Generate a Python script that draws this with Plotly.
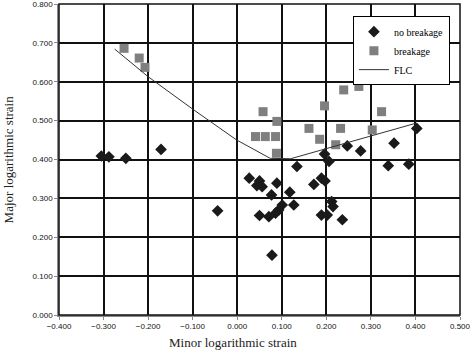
import plotly.graph_objects as go

# no breakage points
nb_x = [-0.305, -0.288, -0.250, -0.171, -0.044,
        0.027, 0.050, 0.044, 0.056, 0.089, 0.077, 0.118,
        0.172, 0.189, 0.197, 0.212, 0.215, 0.127, 0.101, 0.093,
        0.086, 0.071, 0.050, 0.189, 0.202, 0.236, 0.078,
        0.134, 0.196, 0.206, 0.247, 0.277, 0.352, 0.403, 0.339, 0.385]
nb_y = [0.409, 0.407, 0.403, 0.426, 0.268,
        0.352, 0.345, 0.333, 0.330, 0.339, 0.309, 0.316,
        0.336, 0.352, 0.345, 0.292, 0.279, 0.283, 0.283, 0.270,
        0.262, 0.253, 0.256, 0.257, 0.257, 0.245, 0.154,
        0.382, 0.414, 0.395, 0.435, 0.422, 0.442, 0.480, 0.384, 0.388]

# breakage points
br_x = [-0.254, -0.220, -0.207, 0.058, 0.089, 0.041, 0.063, 0.086, 0.088,
        0.196, 0.161, 0.185, 0.232, 0.221, 0.239, 0.273, 0.324, 0.303]
br_y = [0.686, 0.661, 0.637, 0.523, 0.498, 0.459, 0.459, 0.459, 0.416,
        0.538, 0.480, 0.452, 0.480, 0.438, 0.579, 0.588, 0.523, 0.476]

# forming limit curve
flc_x = [-0.275, -0.200, -0.098, -0.001, 0.074, 0.120, 0.400]
flc_y = [0.684, 0.613, 0.528, 0.450, 0.403, 0.402, 0.493]

x_ticks = [-0.4, -0.3, -0.2, -0.1, 0.0, 0.1, 0.2, 0.3, 0.4, 0.5]
y_ticks = [0.0, 0.1, 0.2, 0.3, 0.4, 0.5, 0.6, 0.7, 0.8]

fig = go.Figure()
fig.add_trace(go.Scatter(x=nb_x, y=nb_y, mode="markers", name="no breakage",
                         marker=dict(symbol="diamond", size=9, color="#1a1a1a")))
fig.add_trace(go.Scatter(x=br_x, y=br_y, mode="markers", name="breakage",
                         marker=dict(symbol="square", size=9, color="#7f7f7f")))
fig.add_trace(go.Scatter(x=flc_x, y=flc_y, mode="lines", name="FLC",
                         line=dict(color="#333333", width=1)))

tick_font = dict(family="Liberation Sans", size=8, color="#111111")
fig.update_layout(
    width=474, height=355,
    margin=dict(l=59, r=14, t=4, b=40, autoexpand=False),
    paper_bgcolor="white", plot_bgcolor="white",
    showlegend=True,
    legend=dict(x=0.733, y=0.961, xanchor="left", yanchor="top",
                bgcolor="white", bordercolor="black", borderwidth=1,
                font=dict(family="Liberation Serif", size=10, color="black"),
                tracegroupgap=0, itemwidth=30),
    xaxis=dict(range=[-0.4, 0.5], tickvals=x_ticks, tickformat=".3f",
               automargin=False, ticklabeloverflow="allow",
               showgrid=True, gridcolor="#111111", gridwidth=1.5,
               zeroline=False, showline=True, linecolor="#888888", linewidth=1.5,
               ticks="outside", ticklen=3, tickcolor="#888888",
               tickfont=tick_font),
    yaxis=dict(range=[0, 0.8], tickvals=y_ticks, tickformat=".3f",
               automargin=False, ticklabeloverflow="allow",
               showgrid=True, gridcolor="#111111", gridwidth=1.5,
               zeroline=False, showline=True, linecolor="#888888", linewidth=1.5,
               ticks="outside", ticklen=3, tickcolor="#888888",
               tickfont=tick_font),
)
# top/right border
fig.add_shape(type="rect", xref="paper", yref="paper", x0=0, y0=0, x1=1, y1=1,
              line=dict(color="#111111", width=1.5), layer="above")
fig.add_annotation(text="Minor logarithmic strain", xref="paper", yref="paper",
                   x=0.434, y=-0.087, xanchor="center", yanchor="middle", showarrow=False,
                   font=dict(family="Liberation Serif", size=13, color="#222222"))
fig.add_annotation(text="Major logarithmic strain", xref="paper", yref="paper",
                   x=-0.125, y=0.5, xanchor="center", yanchor="middle", showarrow=False,
                   textangle=-90,
                   font=dict(family="Liberation Serif", size=13, color="#222222"))

fig.write_html("out.html", config={"displayModeBar": False},
               post_script="document.body.style.margin='0';")
